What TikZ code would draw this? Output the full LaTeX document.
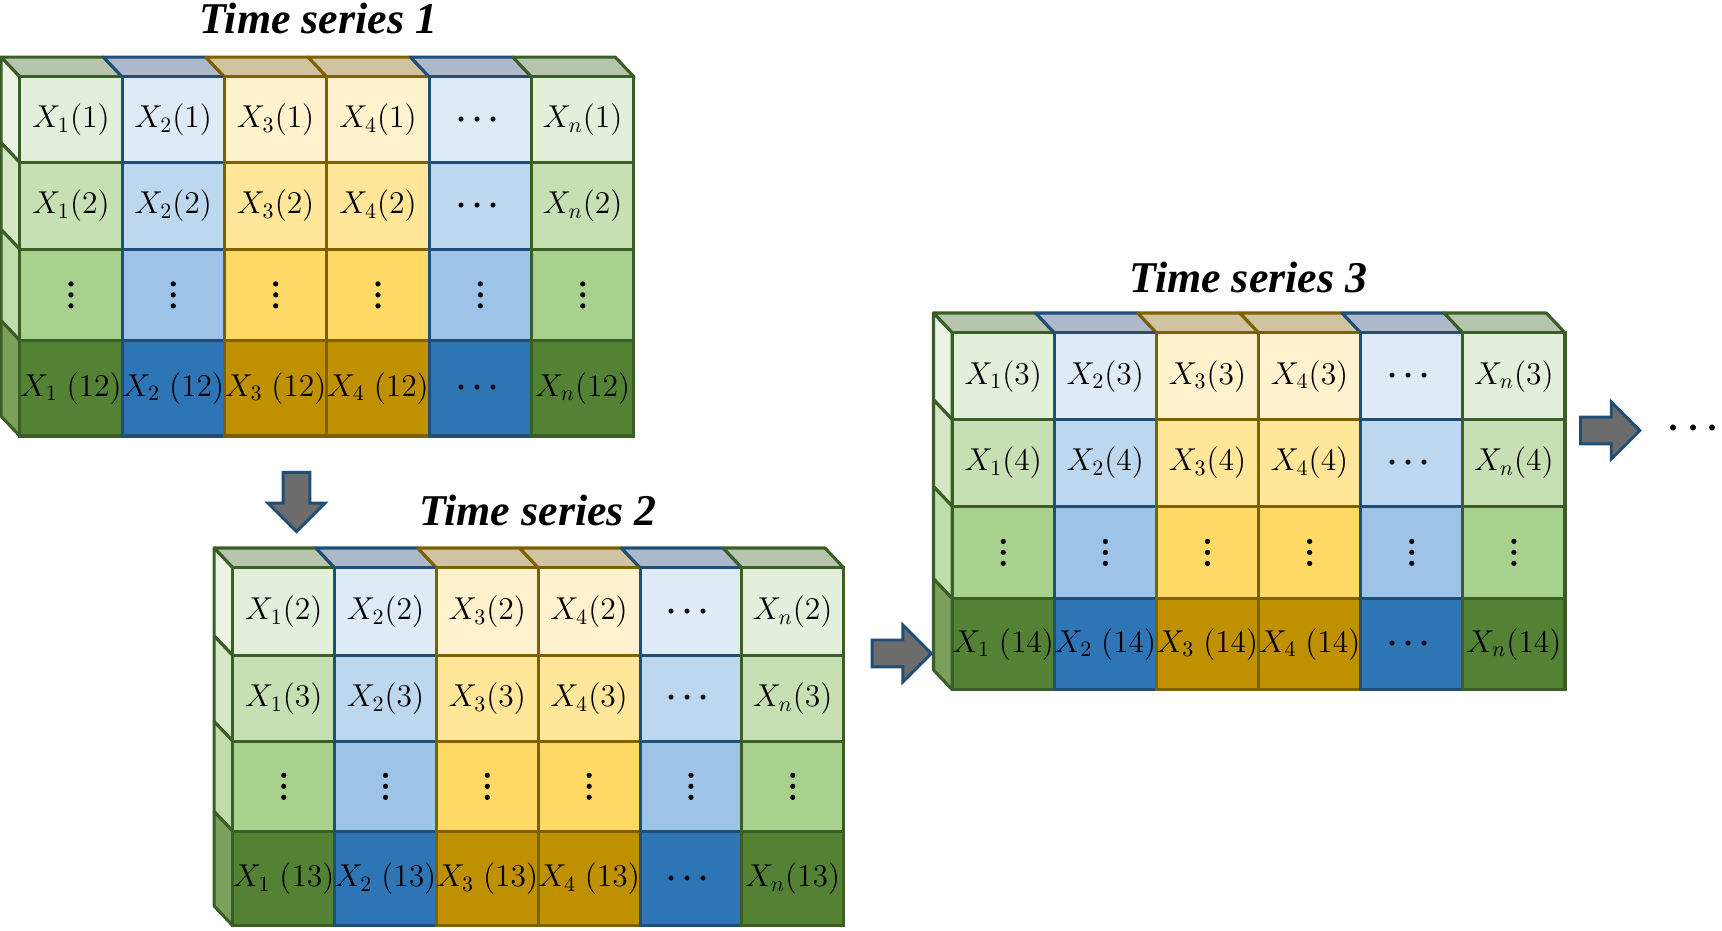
\documentclass[tikz,border=0pt]{standalone}
\usepackage{amsmath}
\usepackage{fontspec}
\newfontfamily\titlefont{Liberation Serif}
\usetikzlibrary{shapes.arrows}
\definecolor{g1}{HTML}{E2EFDA}\definecolor{g2}{HTML}{C6E0B4}\definecolor{g3}{HTML}{A9D18E}\definecolor{g4}{HTML}{548235}\definecolor{gD}{HTML}{3B5E26}\definecolor{gT}{HTML}{B7C4AE}
\definecolor{b1}{HTML}{DEEBF7}\definecolor{b2}{HTML}{BDD7EE}\definecolor{b3}{HTML}{9DC3E6}\definecolor{b4}{HTML}{2E75B6}\definecolor{bD}{HTML}{1F4E79}\definecolor{bT}{HTML}{ADB9CA}
\definecolor{y1}{HTML}{FFF2CC}\definecolor{y2}{HTML}{FFE699}\definecolor{y3}{HTML}{FFD966}\definecolor{y4}{HTML}{BF9000}\definecolor{yD}{HTML}{7F6000}\definecolor{yT}{HTML}{CFC3A0}
\definecolor{s1}{HTML}{EAF3E4}\definecolor{s2}{HTML}{D4E8C6}\definecolor{s3}{HTML}{BFDDAA}\definecolor{s4}{HTML}{7BA05B}
\newcommand\vdotsbig{\tikz[baseline=-0.5ex,x=1pt,y=1pt]{\foreach \k in {-5,0,5}\fill (0,\k) circle (1.2pt);}}
\newcommand\tsblock[8]{% name, x0, cw, y0..y4
 \foreach \i/\f in {1/g,2/b,3/y,4/y,5/b,6/g}{
  \pgfmathsetmacro\xa{#2+(\i-1)*#3}
  \filldraw[fill=\f T,draw=\f D,line width=1.4pt,line join=round] (\xa,#4)--++(#3,0)--++(-17,-18)--++(-#3,0)--cycle;}
 \foreach \r/\ya/\yb in {1/#4/#5,2/#5/#6,3/#6/#7,4/#7/#8}{
  \filldraw[fill=s\r,draw=gD,line width=1.4pt,line join=round] (#2,\ya)--++(-17,-18)--(#2-17,\yb-18)--(#2,\yb)--cycle;}
 \foreach \i/\f/\v in {1/g/X_1,2/b/X_2,3/y/X_3,4/y/X_4,5/b/\cdots,6/g/X_n}{
  \foreach \r/\ya/\yb/\t in {1/#4/#5/\na,2/#5/#6/\nb,3/#6/#7/,4/#7/#8/\nc}{
   \pgfmathsetmacro\xa{#2+(\i-1)*#3}
   \pgfmathsetmacro\hh{(\yb-\ya)*0.5}
   \pgfmathsetmacro\ww{#3*0.5}
   \node[cell,fill=\f\r,draw=\f D,minimum width=\ww pt,minimum height=\hh pt] (#1-\i-\r) at (\xa,\ya)
    {\ifnum\r=3 \vdotsbig\else\ifnum\i=5 $\boldsymbol{\cdots}$\else\ifnum\r=4\ifnum\i=6 $\v(\t)$\else$\v\;(\t)$\fi\else$\v(\t)$\fi\fi\fi};
 }}
}
\begin{document}
\begin{tikzpicture}[x=0.5pt,y=-0.5pt,
 cell/.style={rectangle,anchor=north west,inner sep=0pt,outer sep=0pt,line width=1.4pt,font=\fontsize{14}{16}\selectfont},
 title/.style={font=\titlefont\fontsize{20}{22}\selectfont\bfseries\itshape},
 barrow/.style={single arrow,fill=gray!85!black,draw=bD,line width=1.3pt,minimum height=27pt,minimum width=26pt,single arrow head extend=3pt,inner sep=2pt}]
\useasboundingbox (0,0) rectangle (1568,847);
\node[title] (t1) at (290,17) {Time series 1};
\node[title] (t2) at (490,465) {Time series 2};
\node[title] (t3) at (1137,253) {Time series 3};
\def\na{1}\def\nb{2}\def\nc{12}
\tsblock{A}{18}{93.2}{70}{148}{227}{310}{397}
\def\na{2}\def\nb{3}\def\nc{13}
\tsblock{B}{212}{92.7}{517}{597}{675}{757}{843}
\def\na{3}\def\nb{4}\def\nc{14}
\tsblock{C}{867}{93}{303}{382}{461}{545}{628}
\node[barrow,shape border rotate=270] (a1) at (270,451) {};
\node[barrow] (a2) at (815,595) {};
\node[barrow] (a3) at (1460,392) {};
\node[font=\fontsize{18}{20}\selectfont] (dots) at (1545,390) {$\boldsymbol{\cdots}$};
\end{tikzpicture}
\end{document}
